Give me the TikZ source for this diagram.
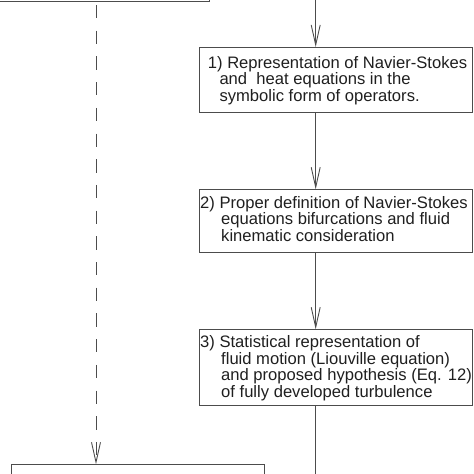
\documentclass[tikz,border=0pt]{standalone}
\usepackage{fontspec}
\setmainfont{Liberation Sans}
\usetikzlibrary{arrows.meta}
\definecolor{linec}{gray}{0.3}
\definecolor{txtc}{gray}{0.12}
\begin{document}
\begin{tikzpicture}[x=1pt,y=-1pt,
  box/.style={draw=linec, line width=0.9pt, rectangle, inner sep=0pt, outer sep=0pt, anchor=north west},
  lbl/.style={anchor=base west, inner sep=0pt, align=left, font=\fontsize{16.6}{16.6}\selectfont, text=txtc},
  arr/.style={draw=linec, line width=0.9pt, -{Straight Barb[length=20pt,width=9pt,line width=0.9pt]}},
  dasharr/.style={arr, dash pattern=on 13.3pt off 12.4pt, dash phase=22.2pt},
]
\useasboundingbox (0,0) rectangle (474,474);
\clip (0,0) rectangle (474,474);
% boxes
\node[box, minimum width=227pt, minimum height=41.5pt] (src) at (-17.5,-40) {};
\node[box, minimum width=253.3pt, minimum height=40pt] (tgt) at (11,464.3) {};
\node[box, minimum width=273.7pt, minimum height=65pt] (b1) at (199,47) {};
\node[box, minimum width=273.7pt, minimum height=63.4pt] (b2) at (199,189.3) {};
\node[box, minimum width=273.7pt, minimum height=76pt] (b3) at (199,329.3) {};
% texts (anchor = baseline of the last line)
\node[lbl] (t1) at (207.7,101.2) {1) Representation of Navier-Stokes\\\hspace*{11.6pt}and\ \ heat equations in the\\\hspace*{11.6pt}symbolic form of operators.};
\node[lbl] (t2) at (200,241.3) {2) Proper definition of Navier-Stokes\\\hspace*{21pt}equations bifurcations and fluid\\\hspace*{21pt}kinematic consideration};
\node[lbl] (t3) at (200,397.5) {3) Statistical representation of\\\hspace*{21pt}fluid motion (Liouville equation)\\\hspace*{21pt}and proposed hypothesis (Eq. 12)\\\hspace*{21pt}of fully developed turbulence};
% connectors
\coordinate (rtop) at (315.7,-5);
\coordinate (rbot) at (315.7,480);
\draw[arr] (rtop) -- (rtop |- b1.north);
\draw[arr] (b1.south -| rtop) -- (b2.north -| rtop);
\draw[arr] (b2.south -| rtop) -- (b3.north -| rtop);
\draw[draw=linec, line width=0.9pt] (b3.south -| rtop) -- (rbot);
\draw[dasharr] (src.south) -- (src.south |- tgt.north);
\end{tikzpicture}
\end{document}
